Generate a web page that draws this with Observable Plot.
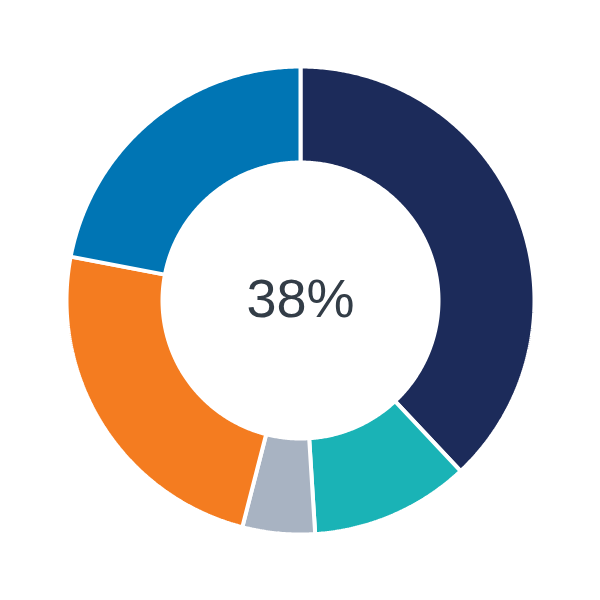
<!DOCTYPE html>
<html>
<head>
<meta charset="utf-8">
<script src="https://cdn.jsdelivr.net/npm/d3@7"></script>
<script src="https://cdn.jsdelivr.net/npm/@observablehq/plot@0.6"></script>
<style>
  html, body { margin: 0; padding: 0; background: #fff; }
  #chart { width: 600px; height: 600px; }
</style>
</head>
<body>
<div id="chart"></div>
<script>
// Data (clockwise from 12 o'clock)
const categories = ["A", "B", "C", "D", "E"];
const values = [38, 11, 5, 24, 22];
const colors = ["#1c2b5a", "#1ab3b6", "#a8b3c2", "#f47c20", "#0075b4"];
const centerLabel = ["38%"];

const outerR = 234, innerR = 138;
const total = d3.sum(values);

// Build ring polygons for each slice
const points = [];
let acc = 0;
categories.forEach((cat, i) => {
  const a0 = acc / total * 2 * Math.PI;
  acc += values[i];
  const a1 = acc / total * 2 * Math.PI;
  const n = Math.max(2, Math.ceil((a1 - a0) / (Math.PI / 360)));
  for (let k = 0; k <= n; k++) {
    const a = a0 + (a1 - a0) * k / n;
    points.push({cat, color: colors[i], x: outerR * Math.sin(a), y: outerR * Math.cos(a)});
  }
  for (let k = n; k >= 0; k--) {
    const a = a0 + (a1 - a0) * k / n;
    points.push({cat, color: colors[i], x: innerR * Math.sin(a), y: innerR * Math.cos(a)});
  }
});

const chart = Plot.plot({
  width: 600,
  height: 600,
  margin: 0,
  x: {domain: [-300, 300], axis: null},
  y: {domain: [-300, 300], axis: null},
  style: {background: "#fff"},
  marks: [
    Plot.line(points, {
      x: "x", y: "y", z: "cat",
      fill: "color", stroke: "#fff", strokeWidth: 4,
      curve: "linear-closed", strokeLinejoin: "miter"
    }),
    Plot.text(centerLabel, {
      x: () => 0, y: () => 0, text: d => d,
      fontSize: 54, fill: "#333d47", dy: -1,
      fontFamily: "Liberation Sans, Arial, Helvetica, sans-serif"
    })
  ]
});
document.getElementById("chart").appendChild(chart);
</script>
</body>
</html>
